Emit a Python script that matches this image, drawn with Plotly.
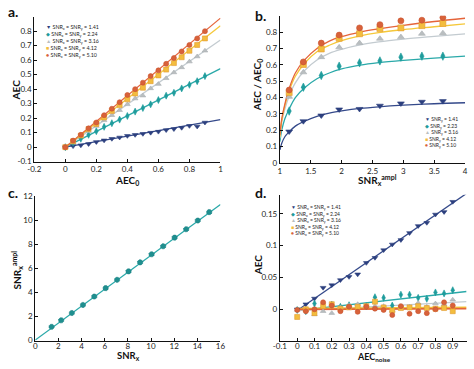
import plotly.graph_objects as go

W, H = 474, 369

# ---------------- data ----------------
series_names = ["1.41", "2.24", "3.16", "4.12", "5.10"]
series_names_b = ["1.41", "2.23", "3.16", "4.12", "5.10"]

# panel a
aec0 = [0, 0.05, 0.1, 0.15, 0.2, 0.25, 0.3, 0.35, 0.4, 0.45, 0.5, 0.55, 0.6, 0.65, 0.7, 0.75, 0.8, 0.85, 0.9]
a_141 = [0, 0.007, 0.013, 0.022, 0.036, 0.047, 0.058, 0.067, 0.078, 0.085, 0.092, 0.100, 0.107, 0.118, 0.125, 0.134, 0.147, 0.143, 0.170]
a_224 = [0, 0.030, 0.058, 0.085, 0.110, 0.140, 0.165, 0.190, 0.215, 0.245, 0.270, 0.295, 0.325, 0.355, 0.375, 0.405, 0.430, 0.455, 0.490]
a_316 = [0, 0.035, 0.075, 0.110, 0.145, 0.185, 0.220, 0.255, 0.295, 0.335, 0.355, 0.405, 0.435, 0.475, 0.515, 0.550, 0.590, 0.625, 0.665]
a_412 = [0, 0.040, 0.080, 0.125, 0.160, 0.205, 0.250, 0.290, 0.330, 0.370, 0.410, 0.455, 0.495, 0.535, 0.580, 0.620, 0.665, 0.705, 0.750]
a_510 = [0, 0.045, 0.085, 0.130, 0.170, 0.220, 0.265, 0.310, 0.360, 0.400, 0.445, 0.490, 0.530, 0.575, 0.615, 0.660, 0.705, 0.750, 0.800]
a_fit_x = [0, 1]
a_fit = [[0, 0.19], [0, 0.542], [0, 0.739], [0, 0.837], [0, 0.89]]

# panel b
snr_ampl = [1.15, 1.38, 1.67, 1.96, 2.29, 2.62, 2.96, 3.30, 3.64]
b_141 = [0.192, 0.255, 0.290, 0.327, 0.330, 0.350, 0.364, 0.374, 0.378]
b_223 = [0.317, 0.463, 0.535, 0.592, 0.612, 0.624, 0.647, 0.653, 0.653]
b_316 = [0.404, 0.554, 0.647, 0.707, 0.733, 0.760, 0.770, 0.790, 0.794]
b_412 = [0.430, 0.602, 0.697, 0.762, 0.790, 0.822, 0.826, 0.840, 0.853]
b_510 = [0.446, 0.618, 0.733, 0.782, 0.826, 0.846, 0.869, 0.873, 0.889]
b_fit_x = [1.0, 1.03, 1.08, 1.15, 1.25, 1.4, 1.6, 1.8, 2.0, 2.3, 2.6, 3.0, 3.5, 4.0]
b_fit_141 = [0.08, 0.12, 0.16, 0.19, 0.225, 0.255, 0.285, 0.305, 0.318, 0.333, 0.343, 0.353, 0.362, 0.368]
b_fit_223 = [0.13, 0.20, 0.27, 0.33, 0.40, 0.46, 0.515, 0.55, 0.575, 0.598, 0.613, 0.627, 0.641, 0.653]
b_fit_316 = [0.15, 0.25, 0.33, 0.41, 0.49, 0.565, 0.63, 0.67, 0.695, 0.722, 0.740, 0.757, 0.774, 0.790]
b_fit_412 = [0.16, 0.26, 0.35, 0.44, 0.53, 0.61, 0.68, 0.72, 0.748, 0.777, 0.797, 0.815, 0.833, 0.851]
b_fit_510 = [0.17, 0.27, 0.36, 0.455, 0.55, 0.63, 0.70, 0.745, 0.772, 0.800, 0.820, 0.842, 0.865, 0.885]

# panel c
snr_x = [1.41, 2.24, 3.16, 4.12, 5.10, 6.08, 7.07, 8.06, 9.06, 10.05, 11.05, 12.04, 13.04, 14.04, 15.03]
snr_x_ampl = [1.15, 1.69, 2.30, 2.97, 3.67, 4.37, 5.06, 5.76, 6.51, 7.18, 7.85, 8.57, 9.27, 9.99, 10.69]
c_fit_x = [0, 16]
c_fit_y = [0.05, 11.33]

# panel d
aec_noise = [0, 0.05, 0.1, 0.15, 0.2, 0.25, 0.3, 0.35, 0.4, 0.45, 0.5, 0.55, 0.6, 0.65, 0.7, 0.75, 0.8, 0.85, 0.9]
d_141 = [0, 0.008, 0.017, 0.034, 0.038, 0.046, 0.051, 0.055, 0.073, 0.081, 0.093, 0.102, 0.109, 0.120, 0.131, 0.136, 0.149, 0.153, 0.169]
d_224 = [-0.001, -0.003, 0.009, 0.009, 0.0075, 0.004, 0.0065, 0.005, 0.005, 0.019, 0.018, 0.006, 0.023, 0.023, 0.018, 0.0165, 0.0265, 0.025, 0.030]
d_316 = [-0.001, 0.0, -0.008, -0.003, -0.006, 0.003, 0.006, 0.008, 0.005, 0.005, 0.005, -0.002, 0.003, 0.004, 0.010, 0.004, 0.009, 0.008, 0.015]
d_412 = [-0.012, 0.0, -0.006, 0.005, 0.008, 0.001, 0.003, 0.004, 0.005, 0.012, 0.003, -0.002, 0.002, 0.003, 0.005, 0.002, 0.001, 0.002, -0.003]
d_510 = [-0.001, -0.003, 0.0, 0.011, 0.006, -0.003, 0.004, -0.004, 0.004, 0.001, -0.001, -0.009, 0.005, -0.007, -0.003, -0.006, 0.0, 0.011, 0.006]
d_fit_x = [0, 0.98]
d_fit = [[-0.002, 0.182], [-0.002, 0.028], [-0.002, 0.012], [0.001, 0.003], [0.0, 0.001]]

# ---------------- styles ----------------
mcol = ["#2c3f7e", "#1f9c9c", "#b9bec0", "#f3bd3e", "#d8623a"]
mline = ["#2c3f7e", "#1f9c9c", "#a9afb2", "#e39a30", "#c9532f"]
lcol = ["#34498a", "#2aa9a9", "#c3cbd0", "#f5c83a", "#e5643a"]
syms = ["triangle-down", "diamond-tall", "triangle-up", "square", "circle"]
uni = ["▼", "◆", "▲", "■", "●"]
FONT = "Lato"

fig = go.Figure()

def px_x(p):
    return p / W

def px_y(p):
    return 1 - p / H

def add_series(xa, ya, xs, ys, i, size=5):
    fig.add_trace(go.Scatter(x=xs, y=ys, mode="markers", xaxis=xa, yaxis=ya,
                             marker=dict(symbol=syms[i], size=size, color=mcol[i],
                                         line=dict(color=mline[i], width=0.6)),
                             showlegend=False, hoverinfo="skip"))

def add_line(xa, ya, xs, ys, color, width=1.3, shape="linear"):
    fig.add_trace(go.Scatter(x=xs, y=ys, mode="lines", xaxis=xa, yaxis=ya,
                             line=dict(color=color, width=width, shape=shape),
                             showlegend=False, hoverinfo="skip"))

# panel a
a_pts = [a_141, a_224, a_316, a_412, a_510]
for i in range(5):
    add_line("x", "y", a_fit_x, a_fit[i], lcol[i])
for i in range(5):
    add_series("x", "y", aec0, a_pts[i], i)

# panel b
b_pts = [b_141, b_223, b_316, b_412, b_510]
b_fits = [b_fit_141, b_fit_223, b_fit_316, b_fit_412, b_fit_510]
for i in range(5):
    add_line("x2", "y2", b_fit_x, b_fits[i], lcol[i], shape="spline")
for i in range(5):
    add_series("x2", "y2", snr_ampl, b_pts[i], i, size=6)

# panel c
add_line("x3", "y3", c_fit_x, c_fit_y, "#2aa9a9")
fig.add_trace(go.Scatter(x=snr_x, y=snr_x_ampl, mode="markers", xaxis="x3", yaxis="y3",
                         marker=dict(symbol="octagon", size=5.5, color="#1f8f8f",
                                     line=dict(color="#1a7f80", width=0.5)),
                         showlegend=False, hoverinfo="skip"))

# panel d
d_pts = [d_141, d_224, d_316, d_412, d_510]
for i in [1, 2, 0, 3, 4]:
    add_line("x4", "y4", d_fit_x, d_fit[i], lcol[i], width=1.3 if i < 3 else 1.8)
for i in range(5):
    add_series("x4", "y4", aec_noise, d_pts[i], i)

# ---------------- axes ----------------
def ax(domain, rng, tickvals, ticktext=None, standoff=None):
    d = dict(domain=domain, range=rng, tickvals=tickvals, showgrid=False, zeroline=False,
             showline=True, linecolor="#111111", linewidth=1.2, ticks="inside", ticklen=3,
             tickwidth=1, tickcolor="#111111",
             tickfont=dict(family=FONT, size=8, color="#222222"), fixedrange=True)
    if ticktext is not None:
        d["ticktext"] = ticktext
    if standoff is not None:
        d["ticklabelstandoff"] = standoff
    return d

fig.update_layout(
    xaxis=ax([px_x(28), px_x(219)], [-0.2, 1.0], [-0.2, 0, 0.2, 0.4, 0.6, 0.8, 1],
             ["-0.2", "0", "0.2", "0.4", "0.6", "0.8", "1"]),
    yaxis=ax([px_y(161), px_y(12)], [-0.1, 0.9], [-0.1, 0, 0.1, 0.2, 0.3, 0.4, 0.5, 0.6, 0.7, 0.8],
             ["-0.1", "0", "0.1", "0.2", "0.3", "0.4", "0.5", "0.6", "0.7", "0.8"]),
    xaxis2=ax([px_x(280), px_x(470)], [1, 4], [1, 1.5, 2, 2.5, 3, 3.5, 4],
              ["1", "1.5", "2", "2.5", "3", "3.5", "4"]),
    yaxis2=ax([px_y(162.3), px_y(11.1)], [0, 0.9], [0, 0.1, 0.2, 0.3, 0.4, 0.5, 0.6, 0.7, 0.8],
              ["0", "0.1", "0.2", "0.3", "0.4", "0.5", "0.6", "0.7", "0.8"]),
    xaxis3=ax([px_x(29), px_x(219)], [0, 16], [0, 2, 4, 6, 8, 10, 12, 14, 16], standoff=-2),
    yaxis3=ax([px_y(345), px_y(196.7)], [0, 12], [0, 2, 4, 6, 8, 10, 12]),
    xaxis4=ax([px_x(280), px_x(471.5)], [-0.1, 0.98], [-0.1, 0, 0.1, 0.2, 0.3, 0.4, 0.5, 0.6, 0.7, 0.8, 0.9],
              ["-0.1", "0", "0.1", "0.2", "0.3", "0.4", "0.5", "0.6", "0.7", "0.8", "0.9"], standoff=-3),
    yaxis4=ax([px_y(345.5), px_y(195)], [-0.05, 0.18], [0, 0.05, 0.1, 0.15],
              ["0", "0.05", "0.1", "0.15"]),
)
fig.layout.yaxis.anchor = "x"
fig.layout.xaxis.anchor = "y"
fig.layout.xaxis2.anchor = "y2"
fig.layout.yaxis2.anchor = "x2"
fig.layout.xaxis3.anchor = "y3"
fig.layout.yaxis3.anchor = "x3"
fig.layout.xaxis4.anchor = "y4"
fig.layout.yaxis4.anchor = "x4"

# ---------------- text ----------------
ann = []

def text(x, y, t, size=10, bold=True, angle=0, xanchor="center", yanchor="middle", color="#111111"):
    ann.append(dict(x=px_x(x), y=px_y(y), xref="paper", yref="paper", text=(f"<b>{t}</b>" if bold else t),
                    showarrow=False, textangle=angle, xanchor=xanchor, yanchor=yanchor,
                    font=dict(family=FONT, size=size, color=color)))

# panel letters
text(-1, 7, "a.", size=14, xanchor="left")
text(252, 11, "b.", size=14, xanchor="left")
text(-1, 193, "c.", size=14, xanchor="left")
text(252, 193, "d.", size=14, xanchor="left")

# axis titles
text(9, 87, "AEC", angle=-90)
text(123, 180, "AEC<sub>0</sub>")
text(257, 82, "AEC / AEC<sub>0</sub>", angle=-90)
text(380, 180, "SNR<sub>x</sub><sup>ampl</sup>")
text(10, 272, "SNR<sub>x</sub><sup>ampl</sup>", angle=-90)
text(125, 369.5, "SNR<sub>x</sub>", size=9.5, yanchor="bottom")
text(257, 267, "AEC", angle=-90)
text(377, 370, "AEC<sub>noise</sub>", size=9, yanchor="bottom")

# legends (one multi-line annotation each)
def legend(x0, ytop, labels, size):
    lines = [f'<span style="color:{mcol[i]}">{uni[i]}</span> {lab}' for i, lab in enumerate(labels)]
    ann.append(dict(x=px_x(x0), y=px_y(ytop), xref="paper", yref="paper",
                    text="<br>".join(lines), showarrow=False, xanchor="left", yanchor="top",
                    align="left", borderpad=0,
                    font=dict(family=FONT, size=size, color="#222222")))

legend(39, 19, [f"SNR<sub>x</sub> = SNR<sub>y</sub> = {s}" for s in series_names], 5.3)
legend(428, 113, [f"SNR<sub>y</sub> = {s}" for s in series_names_b], 5)
legend(290, 204, [f"SNR<sub>x</sub> = SNR<sub>y</sub> = {s}" for s in series_names], 5)

fig.update_layout(annotations=ann, width=W, height=H, margin=dict(l=0, r=0, t=0, b=0),
                  paper_bgcolor="white", plot_bgcolor="white", showlegend=False)

fig.write_html("out.html", config={"displayModeBar": False},
               post_script="document.body.style.margin='0';document.body.style.padding='0';")
